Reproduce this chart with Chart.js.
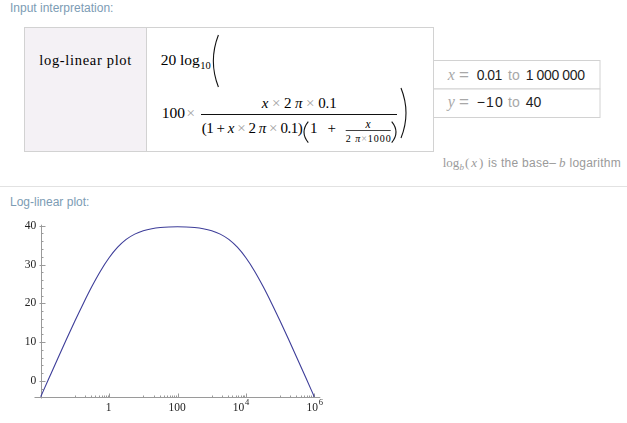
<!DOCTYPE html>
<html>
<head>
<meta charset="utf-8">
<script src="https://cdn.jsdelivr.net/npm/chart.js@4.4.0/dist/chart.umd.min.js"></script>
<style>
html,body{margin:0;padding:0;background:#fff;width:627px;height:423px;overflow:hidden;}
#top{position:absolute;left:0;top:0;}
#plotwrap{position:absolute;left:0;top:210px;width:340px;height:213px;}
</style>
</head>
<body>
<svg id="top" width="627" height="423" xmlns="http://www.w3.org/2000/svg">
  <text x="10" y="12.3" font-family="Liberation Sans, Arial, sans-serif" font-size="12" fill="#7c9cb4">Input interpretation:</text>
  <rect x="24.5" y="27.5" width="122" height="124" fill="#f4f1f5" stroke="#d2d2d2"/>
  <rect x="146.5" y="27.5" width="287" height="124" fill="#fff" stroke="#d2d2d2"/>
  <rect x="433.5" y="60.5" width="166.5" height="28.5" fill="#fff" stroke="#d2d2d2"/>
  <rect x="433.5" y="89" width="166.5" height="28.5" fill="#fff" stroke="#d2d2d2"/>
  <g font-family="Liberation Serif, Times New Roman, serif" fill="#000">
    <text x="39.3" y="64.5" font-size="14.5" textLength="92" lengthAdjust="spacing">log-linear plot</text>
    <text x="160.7" y="65" font-size="15.5" textLength="39" lengthAdjust="spacing">20 log</text>
    <text x="200.3" y="69" font-size="10.5">10</text>
    <text x="161.7" y="118" font-size="15.5">100</text>
    <text x="186.5" y="118" font-size="15" fill="#a0a0a0">×</text>
    <text x="261.7" y="108" font-size="15" textLength="75" lengthAdjust="spacing"><tspan font-style="italic">x</tspan> <tspan fill="#a0a0a0">×</tspan> 2 <tspan font-style="italic">π</tspan> <tspan fill="#a0a0a0">×</tspan> 0.1</text>
    <text x="201.7" y="132.5" font-size="15" textLength="101" lengthAdjust="spacing">(1 + <tspan font-style="italic">x</tspan> <tspan fill="#a0a0a0">×</tspan> 2 <tspan font-style="italic">π</tspan> <tspan fill="#a0a0a0">×</tspan> 0.1)</text>
    <text x="310" y="132.5" font-size="15">1</text>
    <text x="327.5" y="132.5" font-size="15">+</text>
    <text x="368" y="127.8" font-size="11.5" font-style="italic" text-anchor="middle">x</text>
    <text x="345.7" y="142" font-size="10" textLength="45" lengthAdjust="spacing">2 <tspan font-style="italic">π</tspan><tspan fill="#a0a0a0">×</tspan>1000</text>
  </g>
  <g stroke="#111" fill="none" stroke-width="1.1">
    <path d="M218.4 35 Q208.3 61 218.4 87"/>
    <path d="M401 88 Q411 113 401 138"/>
    <path d="M308.3 121.7 Q299.7 132.2 308.3 142.7"/>
    <path d="M391.7 121.7 Q400.3 132.2 391.7 142.7"/>
    <line x1="201" y1="114.5" x2="397" y2="114.5" stroke-width="1"/>
    <line x1="345.7" y1="130.5" x2="390.7" y2="130.5" stroke-width="0.8"/>
  </g>
  <g font-family="Liberation Sans, Arial, sans-serif" font-size="14">
    <text x="447.7" y="80" font-family="Liberation Serif, serif" font-style="italic" font-size="16" fill="#a8a8a8">x</text>
    <text x="459" y="80" font-size="17" fill="#a8a8a8">=</text>
    <text x="476.7" y="80" fill="#1e1e1e" textLength="25.6" lengthAdjust="spacing">0.01</text>
    <text x="508" y="80" fill="#a8a8a8">to</text>
    <text x="525.7" y="80" fill="#1e1e1e" textLength="59.3" lengthAdjust="spacing">1 000 000</text>
    <text x="447.7" y="107.3" font-family="Liberation Serif, serif" font-style="italic" font-size="16" fill="#a8a8a8">y</text>
    <text x="459" y="107.3" font-size="17" fill="#a8a8a8">=</text>
    <text x="476.7" y="107.3" fill="#1e1e1e" textLength="26" lengthAdjust="spacing">−10</text>
    <text x="508" y="107.3" fill="#a8a8a8">to</text>
    <text x="525.7" y="107.3" fill="#1e1e1e">40</text>
  </g>
  <g fill="#9a9a9a">
    <text x="442.7" y="166.5" font-family="Liberation Serif, serif" font-size="13" textLength="16.6" lengthAdjust="spacing">log</text>
    <text x="459.6" y="169.5" font-family="Liberation Serif, serif" font-style="italic" font-size="9">b</text>
    <text x="465" y="166.5" font-family="Liberation Serif, serif" font-size="13" textLength="18.3" lengthAdjust="spacing">(<tspan font-style="italic">x</tspan>)</text>
    <text x="488" y="166.5" font-family="Liberation Sans, Arial, sans-serif" font-size="12" textLength="68" lengthAdjust="spacing">is the base–</text>
    <text x="559" y="166.5" font-family="Liberation Serif, serif" font-style="italic" font-size="13">b</text>
    <text x="569.5" y="166.5" font-family="Liberation Sans, Arial, sans-serif" font-size="12" textLength="51.2" lengthAdjust="spacing">logarithm</text>
  </g>
  <line x1="0" y1="186.5" x2="627" y2="186.5" stroke="#e2e2e2" stroke-width="1"/>
  <text x="10" y="206.3" font-family="Liberation Sans, Arial, sans-serif" font-size="12" fill="#7c9cb4">Log-linear plot:</text>
</svg>
<div id="plotwrap"><canvas id="c"></canvas></div>
<script>
// Values (x on a log axis, y in dB)
const xValues = [0.01, 0.0178, 0.0316, 0.0562, 0.1, 0.178, 0.316, 0.562, 1, 1.78, 3.16, 5.62,
  10, 17.8, 31.6, 56.2, 100, 178, 316, 562, 1000, 1778, 3162, 5623,
  10000, 17783, 31623, 56234, 100000, 177828, 316228, 562341, 1000000];
const yValues = [-4.09, 0.87, 5.79, 10.66, 15.44, 20.04, 24.39, 28.34, 31.73, 34.45, 36.46, 37.83,
  38.70, 39.23, 39.53, 39.68, 39.73, 39.68, 39.53, 39.23, 38.70, 37.83, 36.46, 34.45,
  31.73, 28.34, 24.39, 20.04, 15.44, 10.66, 5.79, 0.87, -4.09];
const xMajorTicks = [1, 100, 10000, 1000000];
const xTickBases = ['1', '100', '10', '10'];
const xTickExponents = ['', '', '4', '6'];
const xMinorTicks = [0.1, 0.2, 0.3, 0.4, 0.5, 0.6, 0.7, 0.8, 0.9,
  10, 20, 30, 40, 50, 60, 70, 80, 90,
  1000, 2000, 3000, 4000, 5000, 6000, 7000, 8000, 9000,
  100000, 200000, 300000, 400000, 500000, 600000, 700000, 800000, 900000];
const yMajorTicks = [0, 10, 20, 30, 40];
const yMinorTicks = [-2, 2, 4, 6, 8, 12, 14, 16, 18, 22, 24, 26, 28, 32, 34, 36, 38];
const xMin = 0.01, xMax = 1000000;
const yMin = -4.09, yMax = 40;

const labelStyle = { base: '11.5px "Liberation Serif", serif', exp: '8.5px "Liberation Serif", serif', color: '#222', shift: [-0.5, -0.5, -5, 0.5] };

const axisPlugin = {
  id: 'mmaAxes',
  beforeDatasetsDraw(chart) {
    const ctx = chart.ctx;
    const xs = chart.scales.x, ys = chart.scales.y;
    const x0 = Math.round(xs.getPixelForValue(xMin)) + 0.5;
    const x1 = xs.getPixelForValue(xMax);
    const y0 = Math.round(ys.getPixelForValue(yMin)) + 0.5;
    const yTop = ys.getPixelForValue(yMax);
    ctx.save();
    ctx.strokeStyle = '#9a9a9a';
    ctx.lineWidth = 1;
    ctx.beginPath();
    ctx.moveTo(x0 - 7, y0); ctx.lineTo(x1 + 6, y0);
    ctx.moveTo(x0, y0 + 1); ctx.lineTo(x0, yTop - 1);
    xMajorTicks.forEach(v => { const p = Math.round(xs.getPixelForValue(v)) + 0.5; ctx.moveTo(p, y0); ctx.lineTo(p, y0 - 4); });
    xMinorTicks.forEach(v => { const p = Math.round(xs.getPixelForValue(v)) + 0.5; ctx.moveTo(p, y0); ctx.lineTo(p, y0 - 2); });
    yMajorTicks.forEach(v => { const p = Math.round(ys.getPixelForValue(v)) + 0.5; ctx.moveTo(x0 - 2, p); ctx.lineTo(x0 + 4, p); });
    yMinorTicks.forEach(v => { const p = Math.round(ys.getPixelForValue(v)) + 0.5; ctx.moveTo(x0, p); ctx.lineTo(x0 + 2, p); });
    ctx.stroke();
    ctx.restore();
  },
  afterDraw(chart) {
    const ctx = chart.ctx;
    const xs = chart.scales.x;
    const baseY = xs.top + 14.2;
    ctx.save();
    ctx.fillStyle = labelStyle.color;
    ctx.textBaseline = 'alphabetic';
    xMajorTicks.forEach((v, i) => {
      const p = xs.getPixelForValue(v);
      const base = xTickBases[i], ex = xTickExponents[i];
      ctx.font = labelStyle.base;
      const wb = ctx.measureText(base).width;
      ctx.font = labelStyle.exp;
      const we = ex ? ctx.measureText(ex).width + 0.8 : 0;
      const left = p + labelStyle.shift[i] - (wb + we) / 2;
      ctx.font = labelStyle.base;
      ctx.textAlign = 'left';
      ctx.fillText(base, left, baseY);
      if (ex) {
        ctx.font = labelStyle.exp;
        ctx.fillText(ex, left + wb + 0.8, baseY - 6.5);
      }
    });
    ctx.restore();
  }
};

new Chart(document.getElementById('c'), {
  type: 'line',
  data: {
    datasets: [{
      data: xValues.map((x, i) => ({ x: x, y: yValues[i] })),
      borderColor: '#3d3d99',
      borderWidth: 1.1,
      pointRadius: 0,
      fill: false,
      cubicInterpolationMode: 'monotone',
      clip: false
    }]
  },
  options: {
    responsive: true,
    maintainAspectRatio: false,
    animation: false,
    layout: { padding: { top: 15.7, right: 25.7, left: 0, bottom: 0 } },
    plugins: { legend: { display: false }, tooltip: { enabled: false } },
    scales: {
      x: {
        type: 'logarithmic',
        min: xMin, max: xMax,
        afterBuildTicks(s) { s.ticks = xMajorTicks.map(v => ({ value: v })); },
        afterFit(s) { s.height = 26.2; },
        grid: { display: false, drawTicks: false },
        border: { display: false },
        ticks: { display: false, autoSkip: false, maxRotation: 0, minRotation: 0 }
      },
      y: {
        type: 'linear',
        min: yMin, max: yMax,
        afterBuildTicks(s) { s.ticks = yMajorTicks.map(v => ({ value: v })); },
        afterFit(s) { s.width = 40.7; },
        grid: { display: false, drawTicks: false },
        border: { display: false },
        ticks: {
          padding: 4.5, color: '#222', font: { family: 'Liberation Serif', size: 11.5 },
          callback: (v) => String(v)
        }
      }
    }
  },
  plugins: [axisPlugin]
});
</script>
</body>
</html>
